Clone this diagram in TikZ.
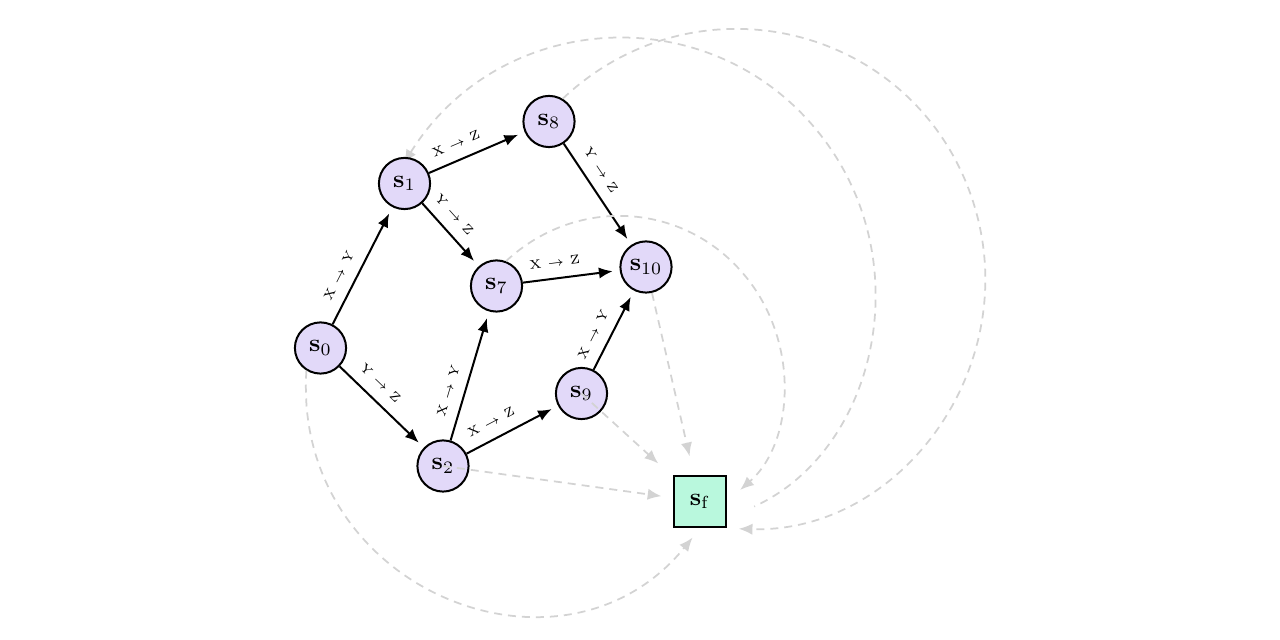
\documentclass[tikz,border=0pt]{standalone}
\usetikzlibrary{arrows.meta,backgrounds}
\definecolor{nodefill}{HTML}{E2D9F9}
\definecolor{finfill}{HTML}{B9F8DD}
\definecolor{ghost}{HTML}{D3D3D3}
\tikzset{
  snode/.style={circle, draw=black, line width=0.8pt, fill=nodefill, minimum size=0.72cm, inner sep=0pt, font=\normalsize},
  fnode/.style={rectangle, draw=black, line width=0.8pt, fill=finfill, minimum size=0.73cm, inner sep=0pt, font=\normalsize},
  trans/.style={-{Latex[length=5.5pt,width=4.5pt]}, line width=0.8pt, shorten >=2.8pt},
  act/.style={font=\tiny, sloped, above=3.5pt, inner sep=1pt, pos=0.35},
  toend/.style={-{Latex[length=5.5pt,width=4.5pt]}, draw=ghost, line width=0.7pt, dash pattern=on 3.2pt off 2.4pt},
  ghostline/.style={draw=ghost, line width=0.7pt, dash pattern=on 3.2pt off 2.4pt},
}
\begin{document}
\begin{tikzpicture}[x=0.0140625cm, y=-0.0140625cm]
\useasboundingbox (0,0) rectangle (1280,640);
% states
\node[snode] (s0) at (320.5,348) {$\mathbf{s}_{0}$};
\node[snode] (s1) at (404.5,183.5) {$\mathbf{s}_{1}$};
\node[snode] (s8) at (549,121.5) {$\mathbf{s}_{8}$};
\node[snode] (s7) at (496.5,286) {$\mathbf{s}_{7}$};
\node[snode] (s10) at (646,267) {$\mathbf{s}_{10}$};
\node[snode] (s9) at (581.5,393.5) {$\mathbf{s}_{9}$};
\node[snode] (s2) at (443,466) {$\mathbf{s}_{2}$};
\node[fnode] (sf) at (700,501.5) {$\mathbf{s}_{\mathrm{f}}$};
% transitions
\draw[trans] (s0) -- node[act] {X $\to$ Y} (s1);
\draw[trans] (s0) -- node[act] {Y $\to$ Z} (s2);
\draw[trans] (s1) -- node[act] {X $\to$ Z} (s8);
\draw[trans] (s1) -- node[act] {Y $\to$ Z} (s7);
\draw[trans] (s8) -- node[act] {Y $\to$ Z} (s10);
\draw[trans] (s7) -- node[act] {X $\to$ Z} (s10);
\draw[trans] (s2) -- node[act] {X $\to$ Y} (s7);
\draw[trans] (s2) -- node[act] {X $\to$ Z} (s9);
\draw[trans] (s9) -- node[act] {X $\to$ Y} (s10);
% dashed connections to the final state
\begin{pgfonlayer}{background}
\draw[ghostline, {Latex[length=5.5pt,width=4.5pt]}-, shorten <=-3pt, shorten >=12pt]
  (s1.83) .. controls (497,13.5) and (699.5,-3.5) .. (811,123.5)
  .. controls (923,250.5) and (880,449) .. (sf.-33);
\end{pgfonlayer}
\draw[toend, shorten >=4.7pt] (s0.238) .. controls (292,589) and (562,698) .. (sf.south);
\draw[toend, shorten >=4.7pt] (s2.center) -- (sf);
\draw[toend, shorten >=8pt] (s9.center) -- (sf);
\draw[toend, shorten >=7.5pt] (s10) -- (sf);
\draw[toend, shorten >=7pt] (s7.69) .. controls (575,197) and (679,202) .. (740,270)
  .. controls (801,337) and (795,442) .. (sf.east);
\draw[toend, shorten >=4.7pt] (s8.59) .. controls (695,-26) and (906.6,23.6) .. (969,190)
  .. controls (1031.6,357) and (904.6,533.8) .. (sf.south east);
\end{tikzpicture}
\end{document}
